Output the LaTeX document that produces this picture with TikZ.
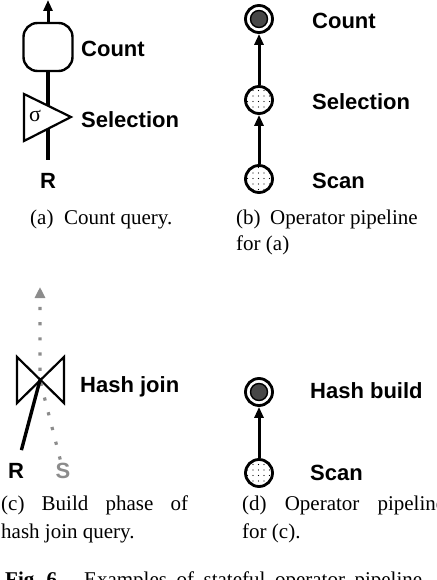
\documentclass[tikz,border=0pt]{standalone}
\usepackage{fontspec}
\setmainfont{Liberation Serif}
\setsansfont{Liberation Sans}
\usetikzlibrary{arrows.meta,patterns.meta}

\tikzset{
  lbl/.style={font=\sffamily\bfseries\fontsize{22}{26}\selectfont,anchor=base west,inner sep=0pt},
  capt/.style={font=\fontsize{21}{27}\selectfont,anchor=base west,inner sep=0pt},
  opnode/.style={circle,draw,line width=2.8pt,minimum size=27pt,inner sep=0pt,
                 pattern={Dots[distance=5.5pt,radius=0.55pt]}},
  statenode/.style={circle,draw,line width=2.8pt,minimum size=27pt,inner sep=0pt,
                 path picture={\filldraw[fill=black!72,line width=1.4pt]
                   (path picture bounding box.center) circle (8.5pt);}},
  flow/.style={line width=3pt,-{Triangle[length=11pt,width=9pt]}},
  dotflow/.style={draw=black!45,line width=3.2pt,dash pattern=on 3.2pt off 12pt,
                  -{Triangle[length=11pt,width=10pt]}},
}

\begin{document}
\begin{tikzpicture}[x=1pt,y=-1pt]
\useasboundingbox (0,0) rectangle (436,580);
\clip (0,0) rectangle (436,580);

% (a) count query
\node[draw,line width=2.4pt,rounded corners=14pt,minimum width=49pt,minimum height=48pt] (cnt) at (48,47) {};
\node[lbl,anchor=base] (ra) at (48,188) {R};
\coordinate (outa) at (48,0);
\draw[flow] (cnt) -- (outa);
\draw[line width=3.4pt,shorten >=13pt] (cnt) -- (ra);
\draw[line width=2.2pt,fill=white] (24,94) -- (71,117) -- (24,141) -- cycle;
\node (sig) at (35,116) {\fontsize{22}{24}\selectfont σ};
\node[lbl] (cntla) at (81,57) {Count};
\node[lbl] (sella) at (81,127.5) {Selection};

% (b) pipeline for (a)
\node[statenode] (cntb) at (259,19) {};
\node[opnode] (selb) at (259,100) {};
\node[opnode] (scanb) at (259,179) {};
\draw[flow] (selb) -- (cntb);
\draw[flow] (scanb) -- (selb);
\node[lbl] (cntlb) at (312,29) {Count};
\node[lbl] (sellb) at (312,110) {Selection};
\node[lbl] (scanlb) at (312,188) {Scan};

\node[capt] (capa) at (30,224) {(a)\hspace{0.5em}Count query.};
\node[capt] (capb1) at (236,224) {(b)\hspace{0.45em}Operator pipeline};
\node[capt] (capb2) at (236,250) {for (a)};

% (c) build phase
\node[lbl,anchor=base] (rc) at (16,478) {R};
\node[lbl,anchor=base,text=black!45] (sc) at (63,478) {S};
\coordinate (jc) at (40,380);
\coordinate (outc) at (40,287);
\draw[line width=2.2pt] (17,357) -- (64,403) -- (64,357) -- (17,403) -- cycle;
\draw[dotflow,shorten <=3pt] (sc) -- (jc) -- (outc);
\draw[line width=3.4pt,shorten >=13pt] (jc) -- (rc);
\node[lbl] (hjl) at (80,392) {Hash join};

% (d) pipeline for (c)
\node[statenode] (hb) at (259,392) {};
\node[opnode] (scand) at (259,473) {};
\draw[flow] (scand) -- (hb);
\node[lbl] (hbl) at (310,398) {Hash build};
\node[lbl] (scanld) at (310,480) {Scan};

\node[capt] (capc1) at (1,510) {\makebox[187pt][s]{(c) Build phase of}};
\node[capt] (capc2) at (1,538) {hash join query.};
\node[capt] (capd1) at (242,510) {\makebox[203pt][s]{(d) Operator pipeline}};
\node[capt] (capd2) at (242,538) {for (c).};

\node[capt] (fig) at (5,586) {\textbf{Fig. 6}};
\node[capt] (figt) at (84,586) {\makebox[338pt][s]{Examples of stateful operator pipeline}};
\end{tikzpicture}
\end{document}
